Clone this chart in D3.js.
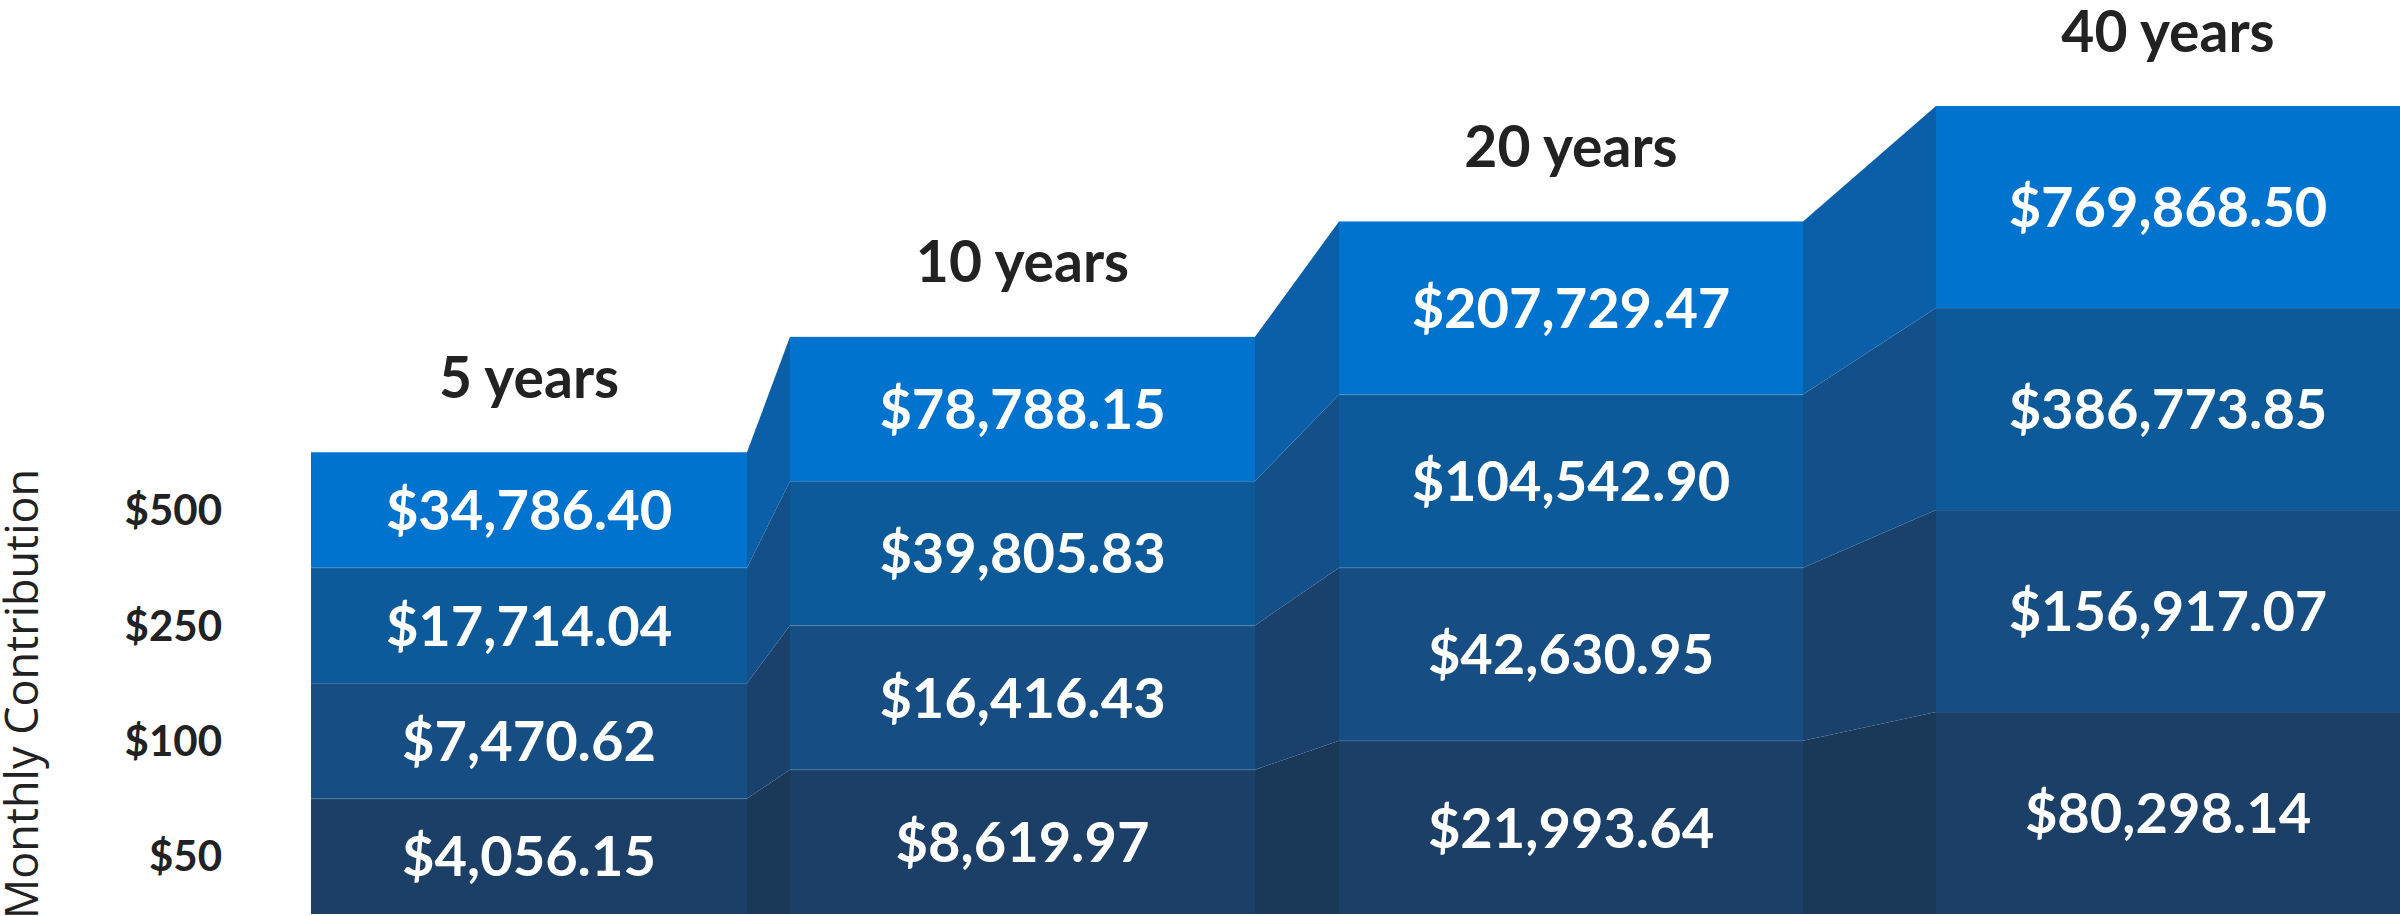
<!DOCTYPE html>
<html><head><meta charset="utf-8">
<script src="https://cdn.jsdelivr.net/npm/d3@7/dist/d3.min.js"></script>
<style>body{margin:0;background:#fff}svg{display:block}</style>
</head><body>
<script>
const periods = ["5 years","10 years","20 years","40 years"];
const contributions = ["$50","$100","$250","$500"];
const levels = [4,5,6,7]; // stack height in row-units per period
const val50  = ["$4,056.15","$8,619.97","$21,993.64","$80,298.14"];
const val100 = ["$7,470.62","$16,416.43","$42,630.95","$156,917.07"];
const val250 = ["$17,714.04","$39,805.83","$104,542.90","$386,773.85"];
const val500 = ["$34,786.40","$78,788.15","$207,729.47","$769,868.50"];
const rows = [val50,val100,val250,val500];
const fills = ["#1b3f66","#164d82","#0d5a9a","#0073cf"];
const sideFills = ["#1a3858","#1a416b","#134f88","#0b5fa8"];

const W=2400,H=916;
const svg=d3.select("body").append("svg").attr("width",W).attr("height",H);
const bottom=914;
const colX=[[311,747],[790,1255],[1339,1803],[1936,2400]];
const yH=d3.scaleLinear().domain([0,7]).range([0,808]);
const colTop = i => bottom - yH(levels[i]);
const rowH = i => (bottom - colTop(i))/4;
const y0 = (i,r) => bottom - rowH(i)*r;
const y1 = (i,r) => bottom - rowH(i)*(r+1);

for(let i=0;i<3;i++){
  for(let r=0;r<4;r++){
    const xa=colX[i][1], xb=colX[i+1][0];
    svg.append("polygon").attr("points",[[xa,y1(i,r)],[xb,y1(i+1,r)],[xb,y0(i+1,r)],[xa,y0(i,r)]].map(p=>p.join(",")).join(" "))
      .attr("fill",sideFills[r]);
  }
}
periods.forEach((p,i)=>{
  for(let r=0;r<4;r++){
    svg.append("rect").attr("x",colX[i][0]).attr("y",y1(i,r)).attr("width",colX[i][1]-colX[i][0]).attr("height",rowH(i))
      .attr("fill",fills[r]);
    if(r<3) svg.append("line").attr("x1",colX[i][0]).attr("x2",colX[i][1]).attr("y1",y1(i,r)).attr("y2",y1(i,r)).attr("stroke","rgba(255,255,255,0.08)").attr("stroke-width",2);
    svg.append("text").attr("x",(colX[i][0]+colX[i][1])/2).attr("y",(y0(i,r)+y1(i,r))/2)
      .attr("dy","0.36em").attr("text-anchor","middle").attr("fill","#fff")
      .attr("font-family","Lato").attr("font-weight","bold").attr("font-size",56).text(rows[r][i]);
  }
  svg.append("text").attr("x",(colX[i][0]+colX[i][1])/2).attr("y",colTop(i)-75).attr("dy","0.36em")
    .attr("text-anchor","middle").attr("fill","#222").attr("font-family","Lato").attr("font-weight","bold")
    .attr("font-size",57).text(p);
});
contributions.forEach((c,r)=>{
  svg.append("text").attr("x",222).attr("y",(y0(0,r)+y1(0,r))/2).attr("dy","0.36em").attr("text-anchor","end")
    .attr("fill","#222").attr("font-family","Lato").attr("font-weight","bold").attr("font-size",42).text(c);
});
svg.append("text").attr("transform","translate(38,694) rotate(-90)").attr("text-anchor","middle")
  .attr("fill","#222").attr("font-family","Open Sans").attr("font-weight",500).attr("font-size",45).text("Monthly Contribution");
</script>
</body></html>
